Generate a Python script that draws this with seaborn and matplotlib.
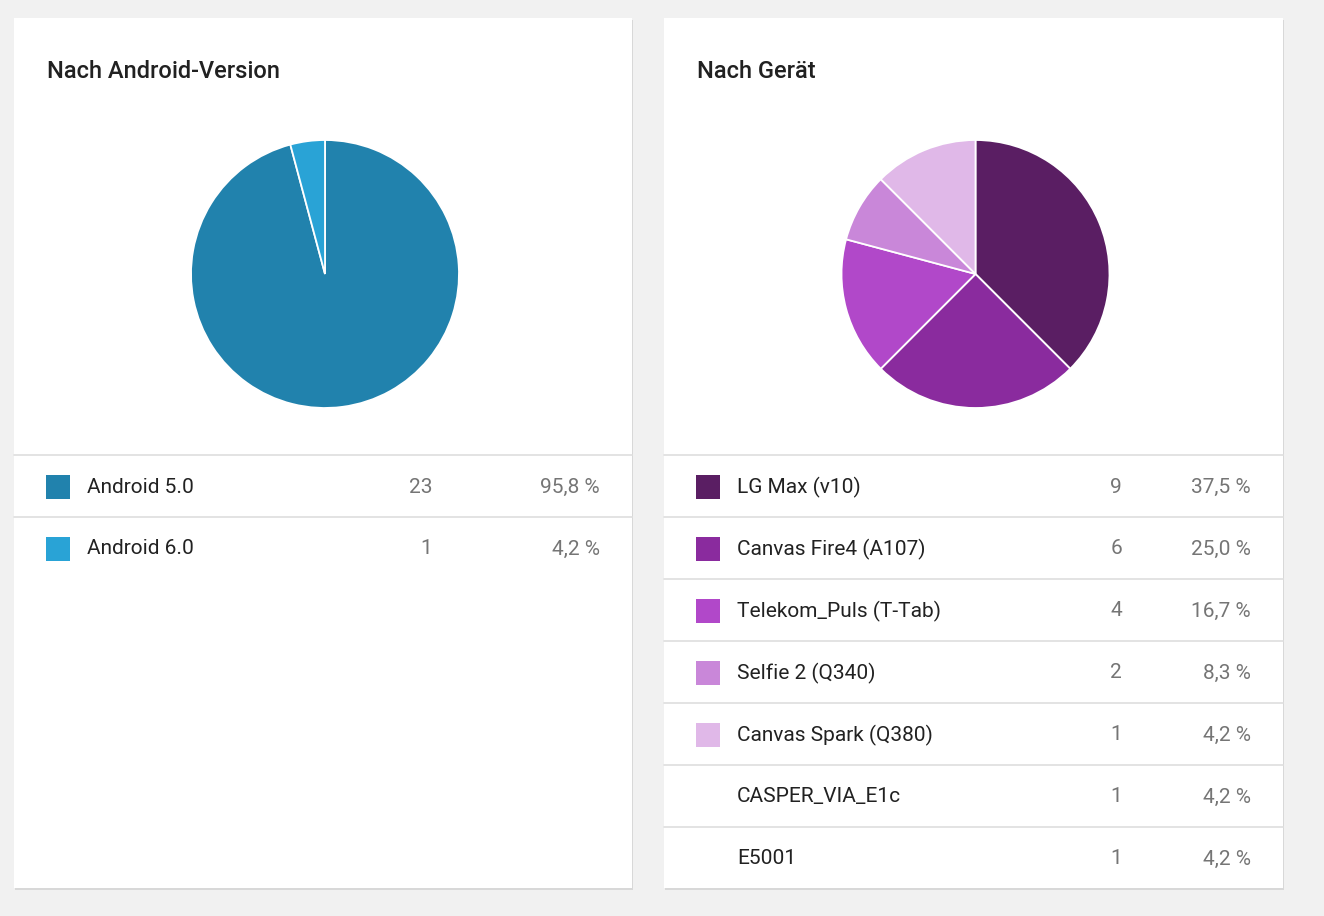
import matplotlib.pyplot as plt
import seaborn as sns
from matplotlib.patches import Rectangle
from matplotlib.lines import Line2D

sns.set_theme(style="white")
plt.rcParams["font.family"] = "Roboto"

# data
version_labels = ["Android 5.0", "Android 6.0"]
version_counts = [23, 1]
version_pcts = ["95,8 %", "4,2 %"]
version_colors = ["#2182ad", "#29a3d6"]

device_labels = ["LG Max (v10)", "Canvas Fire4 (A107)", "Telekom_Puls (T-Tab)", "Selfie 2 (Q340)",
                 "Canvas Spark (Q380)", "CASPER_VIA_E1c", "E5001"]
device_counts = [9, 6, 4, 2, 1, 1, 1]
device_pcts = ["37,5 %", "25,0 %", "16,7 %", "8,3 %", "4,2 %", "4,2 %", "4,2 %"]
device_colors = ["#5a1e63", "#8a2b9e", "#b148c9", "#c987d9", "#e0b8e8"]

W, H = 1324, 916
fig = plt.figure(figsize=(W / 100, H / 100), dpi=100, facecolor="#f1f1f1")


def fx(x):
    return x / W


def fy(y):
    return 1 - y / H


def card(x0, x1, title, labels, counts, pcts, colors, pie_vals, count_x, pct_x):
    fig.patches.append(Rectangle((fx(x0 + 1), fy(890)), fx(x1 - x0), (888 - 18) / H,
                                 transform=fig.transFigure, facecolor="#d8d8d8", edgecolor="none", zorder=-2))
    fig.patches.append(Rectangle((fx(x0), fy(888)), fx(x1 - x0), (888 - 18) / H,
                                 transform=fig.transFigure, facecolor="white", edgecolor="none", zorder=-1))
    fig.text(fx(x0 + 33), fy(72), title, fontsize=17, fontweight="medium", color="#212121", va="center")
    cx = (x0 + x1) / 2 + 2
    r = 134
    ax = fig.add_axes([fx(cx - r), fy(274 + r), 2 * r / W, 2 * r / H])
    ax.set_zorder(5)
    ax.patch.set_visible(False)
    ax.pie(pie_vals, colors=colors, startangle=90, counterclock=False,
           wedgeprops=dict(edgecolor="white", linewidth=1.3))
    ax.set_aspect("auto")
    ax.set_xlim(-1, 1)
    ax.set_ylim(-1, 1)
    ax.axis("off")
    for i, lab in enumerate(labels):
        top = 455 + 62 * i
        fig.lines.append(Line2D([fx(x0), fx(x1)], [fy(top), fy(top)], transform=fig.transFigure,
                                color="#e0e0e0", lw=1.3, zorder=2))
        yc = top + 32
        if i < len(colors):
            fig.patches.append(Rectangle((fx(x0 + 32), fy(yc + 12)), 24 / W, 24 / H,
                                         transform=fig.transFigure, facecolor=colors[i],
                                         edgecolor="none", zorder=2))
        fig.text(fx(x0 + 73), fy(yc), lab, fontsize=15, color="#212121", va="center", zorder=3)
        fig.text(fx(count_x), fy(yc), str(counts[i]), fontsize=15, color="#757575",
                 va="center", ha="right", zorder=3)
        fig.text(fx(pct_x), fy(yc), pcts[i], fontsize=15, color="#757575",
                 va="center", ha="right", zorder=3)


card(14, 632, "Nach Android-Version", version_labels, version_counts, version_pcts,
     version_colors, version_counts, 432, 600)
device_pie = device_counts[:4] + [sum(device_counts[4:])]
card(664, 1283, "Nach Gerät", device_labels, device_counts, device_pcts,
     device_colors, device_pie, 1122, 1251)

fig.savefig("out.png", dpi=100, facecolor=fig.get_facecolor())
